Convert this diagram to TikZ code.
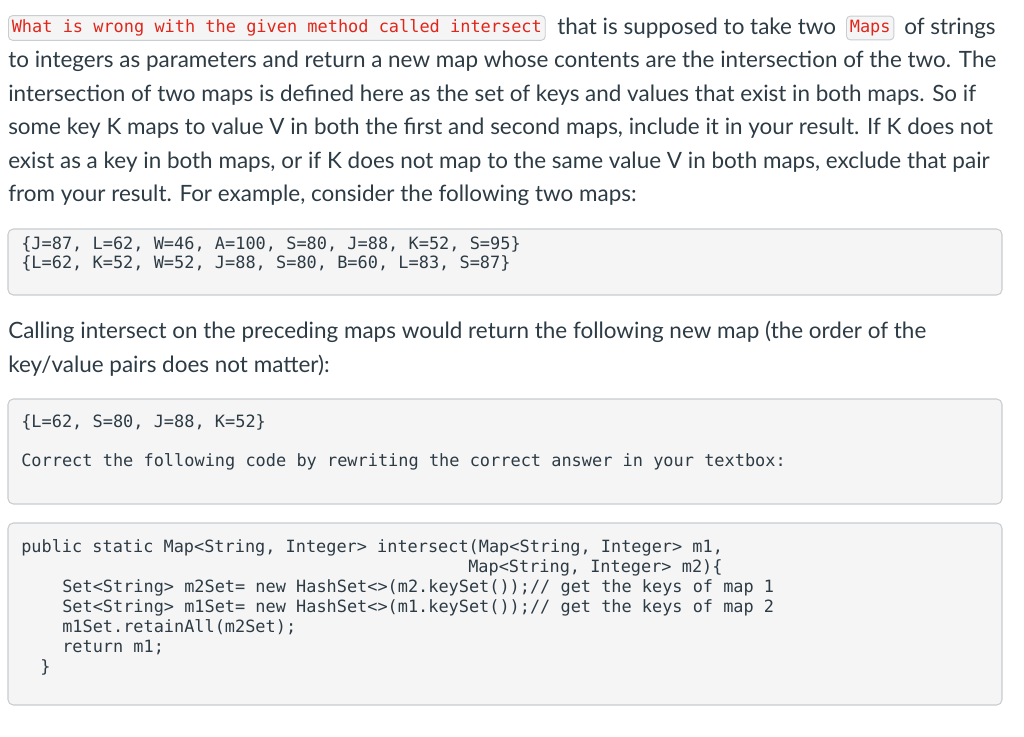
\documentclass[tikz,border=0pt]{standalone}
\usepackage{fontspec}
\setmainfont{Lato}
\setmonofont{DejaVu Sans Mono}
\definecolor{boxbg}{HTML}{F5F5F5}
\definecolor{boxbd}{HTML}{C7CDD1}
\definecolor{codered}{HTML}{E0261B}
\definecolor{txt}{HTML}{2D3B45}
\begin{document}
\begin{tikzpicture}[x=0.75pt,y=-0.75pt,
  body/.style={anchor=base west,inner sep=0,text=txt,font=\fontsize{16.85}{18}\selectfont},
  code/.style={anchor=base west,inner sep=0,text=txt,font=\ttfamily\fontsize{12.7}{14}\selectfont},
  codeb/.style={code,font=\ttfamily\fontsize{12.67}{14}\selectfont},
  panel/.style={draw=boxbd,fill=boxbg,rounded corners=4pt,line width=0.8pt},
  chip/.style={draw=boxbd,fill=boxbg,rounded corners=3pt,line width=0.7pt,inner xsep=2.5pt,inner ysep=3pt,text=codered,font=\ttfamily\fontsize{12.7}{14}\selectfont}]
\useasboundingbox (0,0) rectangle (1024,737);
% inline chips
\node[chip,anchor=west] (c1) at (8,28) {What is wrong with the given method called intersect};
\node[chip,anchor=west] (c2) at (846,28) {Maps};
\node[body] (t1) at (557,35) {that is supposed to take two};
\node[body] (t1b) at (904,35) {of strings};
\node[body] (t2) at (8,68) {to integers as parameters and return a new map whose contents are the intersection of the two. The};
\node[body] (t3) at (8,101.5) {intersection of two maps is defined here as the set of keys and values that exist in both maps. So if};
\node[body] (t4) at (8,135) {some key K maps to value V in both the first and second maps, include it in your result. If K does not};
\node[body] (t5) at (8,168.5) {exist as a key in both maps, or if K does not map to the same value V in both maps, exclude that pair};
\node[body] (t6) at (8,202) {from your result. For example, consider the following two maps:};
% panel 1
\draw[panel] (8,229) rectangle (1002,295);
\node[code] (a1) at (21,250) {\{J=87, L=62, W=46, A=100, S=80, J=88, K=52, S=95\}};
\node[code] (a2) at (21,269) {\{L=62, K=52, W=52, J=88, S=80, B=60, L=83, S=87\}};
\node[body] (p1) at (8,339) {Calling intersect on the preceding maps would return the following new map (the order of the};
\node[body] (p2) at (8,372.5) {key/value pairs does not matter):};
% panel 2
\draw[panel] (8,399) rectangle (1002,504);
\node[code] (b1) at (21,428) {\{L=62, S=80, J=88, K=52\}};
\node[code] (b2) at (21,467) {Correct the following code by rewriting the correct answer in your textbox:};
% panel 3
\draw[panel] (8,523) rectangle (1002,705);
\node[codeb] (d1) at (21,552.5) {public static Map<String, Integer> intersect(Map<String, Integer> m1,};
\node[codeb] (d2) at (468,572) {Map<String, Integer> m2)\{};
\node[codeb] (d3) at (62,592) {Set<String> m2Set= new HashSet<>(m2.keySet());// get the keys of map 1};
\node[codeb] (d4) at (62,612) {Set<String> m1Set= new HashSet<>(m1.keySet());// get the keys of map 2};
\node[codeb] (d5) at (62,632) {m1Set.retainAll(m2Set);};
\node[codeb] (d6) at (62,652) {return m1;};
\node[codeb] (d7) at (40,672) {\}};
\end{tikzpicture}
\end{document}
